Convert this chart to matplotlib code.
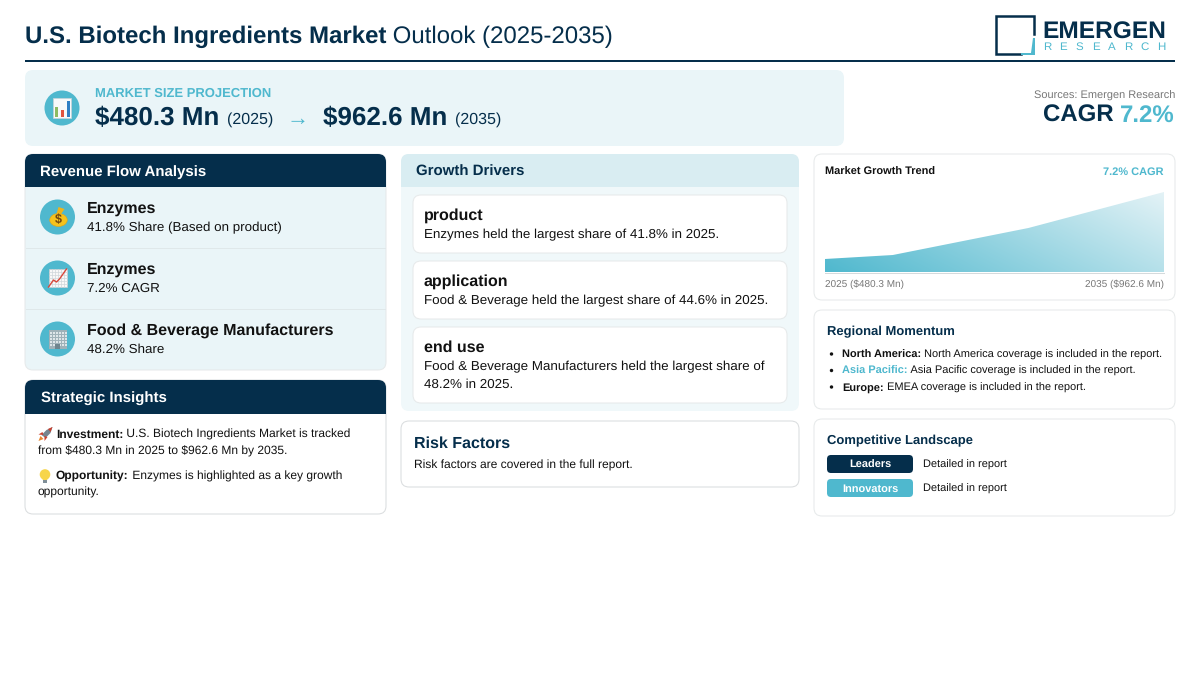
#!/usr/bin/env python3
import matplotlib
matplotlib.use('Agg')
import matplotlib.pyplot as plt
import numpy as np
from matplotlib.patches import FancyBboxPatch, Rectangle, Circle, Polygon, Ellipse

plt.rcParams['font.family'] = ['Liberation Sans', 'DejaVu Sans']
plt.rcParams['text.parse_math'] = False
plt.rcParams['text.hinting'] = 'no_hinting'

NAVY = '#052e4b'
TEAL = '#4fb8ce'
PALE = '#eaf5f8'
HEAD = '#d9edf2'
BORDER = '#e6e9ea'
INK = '#111111'
GREY = '#777777'

# chart values
trend_years = [2025, 2027, 2031, 2035]
trend_values = [480.3, 509.0, 703.5, 962.6]
start_label = '2025 ($480.3 Mn)'
end_label = '2035 ($962.6 Mn)'

# panel text
flow_titles = ['Enzymes', 'Enzymes', 'Food & Beverage Manufacturers']
flow_subs = ['41.8% Share (Based on product)', '7.2% CAGR', '48.2% Share']
driver_titles = ['product', 'application', 'end use']
driver_lines = [['Enzymes held the largest share of 41.8% in 2025.'],
                ['Food & Beverage held the largest share of 44.6% in 2025.'],
                ['Food & Beverage Manufacturers held the largest share of', '48.2% in 2025.']]
region_names = ['North America:', 'Asia Pacific:', 'Europe:']
region_texts = [' North America coverage is included in the report.',
                ' Asia Pacific coverage is included in the report.',
                ' EMEA coverage is included in the report.']
badge_names = ['Leaders', 'Innovators']


def px(size):
    return size * 0.72


def box(ax, x0, y0, x1, y1, fc, ec='none', r=8, lw=0.72, z=1):
    p = FancyBboxPatch((x0, y0), x1 - x0, y1 - y0, boxstyle='round,pad=0,rounding_size=%g' % r,
                       fc=fc, ec=ec, lw=lw, zorder=z)
    ax.add_patch(p)
    return p


def header(ax, shape, x0, y0, x1, y1, fc):
    # top strip of a panel, cut to the panel corners
    r = Rectangle((x0, y0), x1 - x0, y1 - y0, fc=fc, ec='none', zorder=2)
    ax.add_patch(r)
    r.set_clip_path(shape)


def put(ax, x, y, parts, size, ha='left'):
    # run of text pieces on one baseline: (string, weight, colour)
    rend = fig.canvas.get_renderer()
    objs = [ax.text(0, y, s, fontsize=px(size), fontweight=w, color=c, va='baseline', zorder=6)
            for s, w, c in parts]
    widths = []
    for (s, w, c), t in zip(parts, objs):
        # trailing spaces are not measured, so measure around them
        t2 = ax.text(0, y, '|' + s + '|', fontsize=px(size), fontweight=w)
        t3 = ax.text(0, y, '||', fontsize=px(size), fontweight=w)
        widths.append(t2.get_window_extent(rend).width - t3.get_window_extent(rend).width)
        t2.remove()
        t3.remove()
    if ha == 'right':
        x = x - sum(widths)
    for t, wd in zip(objs, widths):
        t.set_x(x)
        x += wd
    return x


def badge_circle(ax, cx, cy):
    ax.add_patch(Circle((cx, cy), 17.5, fc=TEAL, ec='none', zorder=3))


def icon_bars(ax, cx, cy):
    badge_circle(ax, cx, cy)
    ax.add_patch(Rectangle((cx - 9, cy - 10), 18, 20, fc='#f7f9fa', ec='#c9d3d8', lw=0.5, zorder=4))
    for dx, h, c in [(-7, 10, '#8dbb62'), (-1, 7, '#e0533f'), (4.5, 16, '#2f7fc4')]:
        ax.add_patch(Rectangle((cx + dx, cy + 9 - h), 3, h, fc=c, ec='none', zorder=5))


def icon_bag(ax, cx, cy):
    badge_circle(ax, cx, cy)
    ax.add_patch(Ellipse((cx + 1, cy + 3), 17.5, 13, fc='#f6c21c', ec='#e0a514', lw=0.4, zorder=4))
    ax.add_patch(Polygon([(cx - 1, cy - 3), (cx + 1, cy - 10), (cx + 7, cy - 8), (cx + 3, cy - 2)],
                         fc='#eeb31a', ec='none', zorder=4))
    ax.text(cx + 1, cy + 3, '$', fontsize=9, fontweight='bold', color='#6e4510', ha='center', va='center', zorder=5)


def icon_trend(ax, cx, cy):
    badge_circle(ax, cx, cy)
    ax.add_patch(Rectangle((cx - 9, cy - 9), 18, 18, fc='#f8f8f8', ec='#c6ccd0', lw=0.5, zorder=4))
    for d in np.arange(-6, 9, 3):
        ax.plot([cx + d, cx + d], [cy - 9, cy + 9], color='#cfd6da', lw=0.5, zorder=4)
        ax.plot([cx - 9, cx + 9], [cy + d, cy + d], color='#cfd6da', lw=0.5, zorder=4)
    ax.plot([cx - 9, cx - 4, cx - 1, cx + 2, cx + 9], [cy + 9, cy + 2, cy + 4, cy + 1, cy - 9],
            color='#d9483b', lw=1, zorder=5)


def icon_office(ax, cx, cy):
    badge_circle(ax, cx, cy)
    ax.add_patch(Rectangle((cx - 9, cy - 9), 18, 18.5, fc='#9fb1b8', ec='none', zorder=4))
    for dx in np.arange(-7.5, 8, 3):
        for dy in np.arange(-7, 7, 3):
            ax.add_patch(Rectangle((cx + dx, cy + dy), 1.8, 1.8, fc='#dde5e8', ec='none', zorder=5))
    ax.add_patch(Rectangle((cx - 2.5, cy + 5), 5, 4.5, fc='#6f858e', ec='none', zorder=5))


def icon_rocket(ax, cx, cy):
    ax.add_patch(Polygon([(cx - 4, cy + 1), (cx + 1, cy - 4), (cx + 7, cy - 7), (cx + 5, cy - 1), (cx, cy + 4)],
                         fc='#76858f', ec='none', zorder=5))
    ax.add_patch(Polygon([(cx + 7, cy - 7), (cx + 2.5, cy - 5), (cx + 5, cy - 2)], fc='#c9402f', ec='none', zorder=5))
    ax.add_patch(Polygon([(cx - 7, cy + 0.5), (cx - 3, cy - 2), (cx - 2, cy + 1)], fc='#c9402f', ec='none', zorder=5))
    ax.add_patch(Polygon([(cx - 1, cy + 7), (cx + 2, cy + 3), (cx - 1, cy + 2)], fc='#c9402f', ec='none', zorder=5))
    ax.add_patch(Polygon([(cx - 7, cy + 7), (cx - 5, cy + 2), (cx - 2, cy + 5)], fc='#e8862e', ec='none', zorder=5))


def icon_bulb(ax, cx, cy):
    ax.add_patch(Circle((cx, cy - 1.5), 5.3, fc='#f7d54a', ec='none', zorder=5))
    ax.add_patch(Polygon([(cx - 4, cy + 1), (cx + 4, cy + 1), (cx + 2, cy + 4), (cx - 2, cy + 4)], fc='#f7d54a', ec='none', zorder=5))
    ax.add_patch(Rectangle((cx - 2, cy + 4), 4, 3, fc='#7f8e97', ec='none', zorder=5))


fig = plt.figure(figsize=(12, 7), dpi=100, facecolor='white')
ax = fig.add_axes([0, 0, 1, 1])
ax.set_xlim(0, 1200)
ax.set_ylim(700, 0)
ax.axis('off')
fig.canvas.draw()

# title row
put(ax, 25, 43, [('U.S. Biotech Ingredients Market', 'bold', NAVY), (' Outlook (2025-2035)', 'normal', NAVY)], 24)
ax.add_patch(Rectangle((25, 60), 1150, 2, fc=NAVY, ec='none'))

# logo
ax.plot([1034, 1034, 996.2, 996.2, 1021], [34, 16.2, 16.2, 53.8, 53.8], color=NAVY, lw=1.8,
        solid_joinstyle='miter', zorder=3)
ax.add_patch(Polygon([(1033, 38), (1035.2, 38), (1035.2, 55), (1021, 55), (1021, 52.6), (1030.5, 52.6)],
                     fc=TEAL, ec='none', zorder=3))
ax.text(1042, 38.5, 'EMERGEN', fontsize=px(24.5), fontweight='bold', color=NAVY, va='baseline')
for ch, lx in zip('RESEARCH', np.linspace(1043, 1157, 8)):
    ax.text(lx, 50, ch, fontsize=px(11.5), color=TEAL, va='baseline')

# projection banner
box(ax, 25, 70, 844, 146, PALE)
icon_bars(ax, 62, 108)
put(ax, 95, 97, [('MARKET SIZE PROJECTION', 'bold', TEAL)], 13)
put(ax, 95, 125, [('$480.3 Mn', 'bold', NAVY)], 26)
put(ax, 226.5, 124, [('(2025)', 'normal', NAVY)], 16)
put(ax, 287, 125, [('\u2192', 'normal', TEAL)], 22)
put(ax, 323, 125, [('$962.6 Mn', 'bold', NAVY)], 26)
put(ax, 455, 124, [('(2035)', 'normal', NAVY)], 16)
put(ax, 1175, 98.5, [('Sources: Emergen Research', 'normal', GREY)], 11, ha='right')
put(ax, 1175, 122, [('CAGR ', 'bold', NAVY), ('7.2%', 'bold', TEAL)], 24, ha='right')

# revenue flow
shape = box(ax, 25, 154, 386, 370, PALE, BORDER)
header(ax, shape, 25, 154, 386, 187, NAVY)
put(ax, 40, 176, [('Revenue Flow Analysis', 'bold', 'white')], 15)
flow_icons = [icon_bag, icon_trend, icon_office]
for i, (t, s, draw) in enumerate(zip(flow_titles, flow_subs, flow_icons)):
    y = 217 + 61 * i
    draw(ax, 57.5, y)
    put(ax, 87, y - 4, [(t, 'bold', INK)], 16)
    put(ax, 87, y + 14, [(s, 'normal', INK)], 13.4)
    if i < 2:
        ax.plot([26, 385], [y + 30.5, y + 30.5], color='#dfe8ea', lw=0.72, zorder=3)

# strategic insights
shape = box(ax, 25, 380, 386, 514, 'white', '#d9dcde')
header(ax, shape, 25, 380, 386, 414, NAVY)
put(ax, 41, 403, [('Strategic Insights', 'bold', 'white')], 15)
icon_rocket(ax, 45.5, 434)
put(ax, 56, 438, [('Investment:', 'bold', INK), (' U.S. Biotech Ingredients Market is tracked', 'normal', INK)], 12)
put(ax, 38, 455, [('from $480.3 Mn in 2025 to $962.6 Mn by 2035.', 'normal', INK)], 12)
icon_bulb(ax, 45, 476)
put(ax, 56, 480, [('Opportunity:', 'bold', INK), (' Enzymes is highlighted as a key growth', 'normal', INK)], 12)
put(ax, 38, 496, [('opportunity.', 'normal', INK)], 12)

# growth drivers
shape = box(ax, 401, 154, 799, 411, '#f0f8fa')
header(ax, shape, 401, 154, 799, 187, HEAD)
put(ax, 416, 176, [('Growth Drivers', 'bold', NAVY)], 15)
card_tops = [195, 261, 327]
card_bottoms = [253, 319, 403]
for t, lines, y0, y1 in zip(driver_titles, driver_lines, card_tops, card_bottoms):
    box(ax, 413, y0, 787, y1, 'white', BORDER, z=2)
    put(ax, 424, y0 + 25, [(t, 'bold', INK)], 16)
    for j, line in enumerate(lines):
        put(ax, 424, y0 + 43 + 18 * j, [(line, 'normal', INK)], 13.4)

# risk factors
box(ax, 401, 421, 799, 487, 'white', '#d9dcde')
put(ax, 414, 448, [('Risk Factors', 'bold', NAVY)], 16)
put(ax, 414, 469, [('Risk factors are covered in the full report.', 'normal', INK)], 12)

# growth trend card
box(ax, 814, 154, 1175, 300, 'white', BORDER)
put(ax, 825, 175, [('Market Growth Trend', 'bold', INK)], 11)
put(ax, 1164, 175, [('7.2% CAGR', 'bold', TEAL)], 11, ha='right')
ax2 = fig.add_axes([825 / 1200, 1 - 272 / 700, 339 / 1200, 80 / 700])
ax2.set_xlim(trend_years[0], trend_years[-1])
ax2.set_ylim(386.7, trend_values[-1])
ax2.axis('off')
# diagonal fade from the lower left to the upper right
gx, gy = np.meshgrid(np.linspace(0, 1, 340), np.linspace(0, 1, 80))
fade = 0.66 * gx + 0.30 * gy
c0 = np.array([0x4f, 0xb8, 0xce]) / 255
c1 = np.array([0xea, 0xf5, 0xf8]) / 255
rgb = c0 + (c1 - c0) * np.clip(fade, 0, 1)[..., None]
im = ax2.imshow(rgb, extent=[trend_years[0], trend_years[-1], 386.7, trend_values[-1]],
                origin='lower', aspect='auto')
xs = trend_years + [trend_years[-1], trend_years[0]]
ys = trend_values + [386.7, 386.7]
clip = Polygon(np.column_stack([xs, ys]), transform=ax2.transData, fc='none', ec='none')
ax2.add_patch(clip)
im.set_clip_path(clip)
ax.plot([825, 1164], [272.5, 272.5], color='#d5dadc', lw=0.72, zorder=3)
put(ax, 825, 287, [(start_label, 'normal', GREY)], 10)
put(ax, 1164, 287, [(end_label, 'normal', GREY)], 10, ha='right')

# regional momentum
box(ax, 814, 310, 1175, 409, 'white', BORDER)
put(ax, 827, 335, [('Regional Momentum', 'bold', NAVY)], 13)
region_colors = [INK, TEAL, INK]
for i, (n, t, c) in enumerate(zip(region_names, region_texts, region_colors)):
    y = 358 + 16.5 * i
    ax.add_patch(Circle((831.5, y - 4), 1.7, fc=INK, ec='none', zorder=5))
    put(ax, 842, round(y), [(n, 'bold', c), (t, 'normal', INK)], 11)

# competitive landscape
box(ax, 814, 419, 1175, 516, 'white', BORDER)
put(ax, 827, 444, [('Competitive Landscape', 'bold', NAVY)], 13)
for i, (n, c) in enumerate(zip(badge_names, [NAVY, TEAL])):
    y0 = 455 + 24 * i
    box(ax, 827, y0, 913, y0 + 18, c, r=4)
    ax.text(870, y0 + 13, n, fontsize=px(11), fontweight='bold', color='white', ha='center', va='baseline', zorder=6)
    put(ax, 923, y0 + 13, [('Detailed in report', 'normal', INK)], 11)

plt.savefig('out.png', dpi=100)
